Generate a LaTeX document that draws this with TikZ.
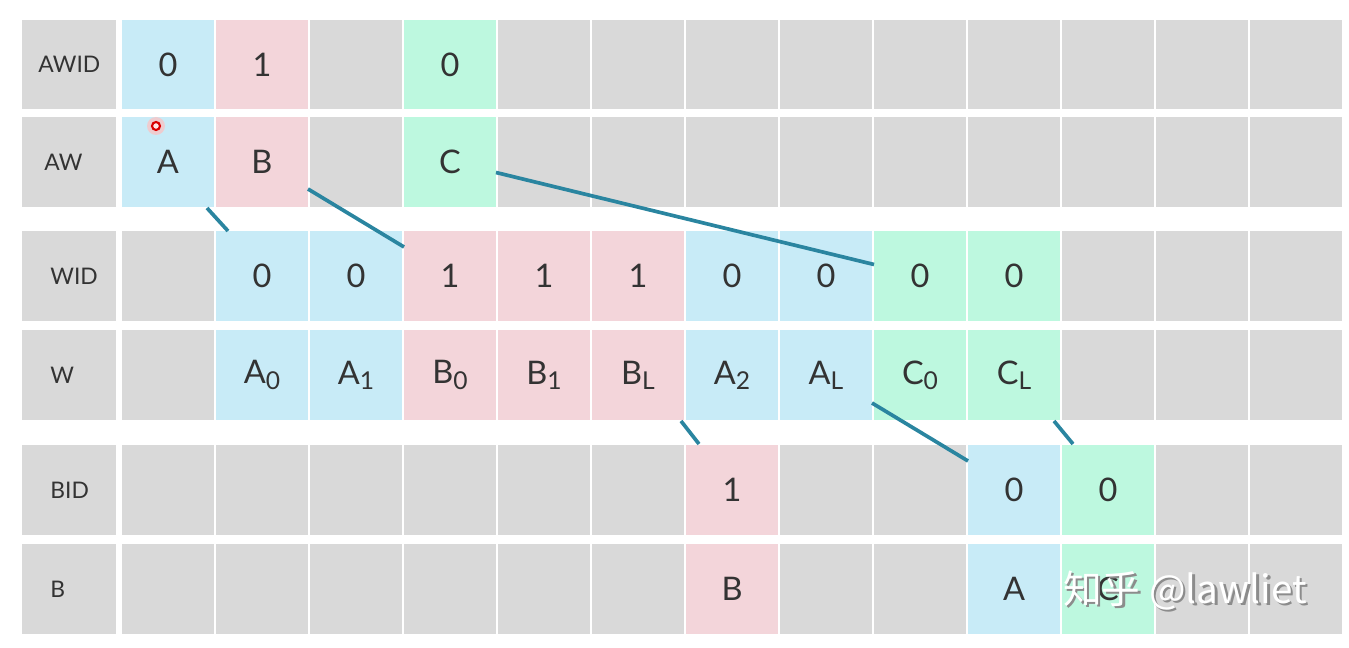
\documentclass[tikz,border=0pt]{standalone}
\usepackage{fontspec}
\setmainfont{Lato}
\newfontfamily\cjkfont{Noto Sans CJK SC}
\usetikzlibrary{calc}
\definecolor{cgray}{HTML}{D9D9D9}
\definecolor{cblue}{HTML}{C8EBF7}
\definecolor{cpink}{HTML}{F3D5DA}
\definecolor{cgreen}{HTML}{BDF8DF}
\definecolor{ctext}{HTML}{333333}
\definecolor{cline}{HTML}{2A85A0}
\newcommand{\sbs}[1]{\raisebox{-0.32ex}{\fontsize{14}{14}\selectfont #1}}
\begin{document}
\begin{tikzpicture}[x=0.02cm,y=-0.02cm,
  cell/.style={minimum width=1.84cm,minimum height=1.8cm,inner sep=0pt,outer sep=0pt,
    text=ctext,font=\fontsize{18.5}{18.5}\selectfont},
  gcell/.style={cell,fill=cgray},
  bcell/.style={cell,fill=cblue},
  pcell/.style={cell,fill=cpink},
  ecell/.style={cell,fill=cgreen},
  lcell/.style={minimum width=1.88cm,minimum height=1.8cm,inner sep=0pt,outer sep=0pt,fill=cgray},
  lab/.style={anchor=west,inner sep=0pt,text=ctext,font=\fontsize{13}{13}\selectfont},
  link/.style={draw=cline,line width=2.1pt}]
\useasboundingbox (0,0) rectangle (1349,648);
% label column
\foreach \r/\y in {awid/64.5,aw/162,wid/276,w/375,bid/490,b/589}{
  \node[lcell] (lab-\r) at (69,\y) {};
}
\node[lab] (t-awid) at (38,64.5) {AWID};
\node[lab] (t-aw) at (44,162) {AW};
\node[lab] (t-wid) at (50,276) {WID};
\node[lab] (t-w) at (50,375) {W};
\node[lab] (t-bid) at (50,490) {BID};
\node[lab] (t-b) at (50,589) {B};
% gray cells
\foreach \c in {3,5,6,7,8,9,10,11,12,13}{
  \node[gcell] (awid-g\c) at ({168+94*(\c-1)},64.5) {};
  \node[gcell] (aw-g\c) at ({168+94*(\c-1)},162) {};
}
\foreach \c in {1,11,12,13}{
  \node[gcell] (wid-g\c) at ({168+94*(\c-1)},276) {};
  \node[gcell] (w-g\c) at ({168+94*(\c-1)},375) {};
}
\foreach \c in {1,2,3,4,5,6,8,9,12,13}{
  \node[gcell] (bid-g\c) at ({168+94*(\c-1)},490) {};
  \node[gcell] (b-g\c) at ({168+94*(\c-1)},589) {};
}
% AWID / AW
\node[bcell] (awid1) at (168,64.5) {0};
\node[pcell] (awid2) at (262,64.5) {1};
\node[ecell] (awid4) at (450,64.5) {0};
\node[bcell] (aw1) at (168,162) {A};
\node[pcell] (aw2) at (262,162) {B};
\node[ecell] (aw4) at (450,162) {C};
% WID / W
\node[bcell] (wid2) at (262,276) {0};
\node[bcell] (wid3) at (356,276) {0};
\node[pcell] (wid4) at (450,276) {1};
\node[pcell] (wid5) at (544,276) {1};
\node[pcell] (wid6) at (638,276) {1};
\node[bcell] (wid7) at (732,276) {0};
\node[bcell] (wid8) at (826,276) {0};
\node[ecell] (wid9) at (920,276) {0};
\node[ecell] (wid10) at (1014,276) {0};
\node[bcell] (w2) at (262,375) {A\sbs{0}};
\node[bcell] (w3) at (356,375) {A\sbs{1}};
\node[pcell] (w4) at (450,375) {B\sbs{0}};
\node[pcell] (w5) at (544,375) {B\sbs{1}};
\node[pcell] (w6) at (638,375) {B\sbs{L}};
\node[bcell] (w7) at (732,375) {A\sbs{2}};
\node[bcell] (w8) at (826,375) {A\sbs{L}};
\node[ecell] (w9) at (920,375) {C\sbs{0}};
\node[ecell] (w10) at (1014,375) {C\sbs{L}};
% BID / B
\node[pcell] (bid7) at (732,490) {1};
\node[bcell] (bid10) at (1014,490) {0};
\node[ecell] (bid11) at (1108,490) {0};
\node[pcell] (b7) at (732,589) {B};
\node[bcell] (b10) at (1014,589) {A};
\node[ecell] (b11) at (1108,589) {C};
% connectors
\draw[link] ($(aw1.south)+(39,1)$) -- ($(wid2.north)+(-34,0)$);
\draw[link] ($(aw2.east)+(0,27)$) -- ($(wid4.west)+(0,-29)$);
\draw[link] ($(aw4.east)+(0,10.5)$) -- ($(wid9.west)+(0,-11.5)$);
\draw[link] ($(w6.south east)+(-3,1)$) -- ($(bid7.north west)+(13,-1)$);
\draw[link] ($(w8.east)+(0,28)$) -- ($(bid10.west)+(0,-29)$);
\draw[link] ($(w10.south east)+(-6,1)$) -- ($(bid11.north west)+(11,-1)$);
% cursor marker
\node[circle,fill=red!25,opacity=0.7,minimum size=0.36cm,inner sep=0pt] (cur-glow) at (156,126) {};
\node[circle,draw=red!85!black,fill=red!10,line width=1.2pt,minimum size=0.16cm,inner sep=0pt] (cur) at (156,126) {};
% watermark
\node[text=black!45,font=\cjkfont\fontsize{22}{22}\selectfont,inner sep=0pt] (wm-shadow) at (1187.5,593) {知乎 @lawliet};
\node[text=white,font=\cjkfont\fontsize{22}{22}\selectfont,inner sep=0pt] (wm) at (1185,591) {知乎 @lawliet};
\end{tikzpicture}
\end{document}
